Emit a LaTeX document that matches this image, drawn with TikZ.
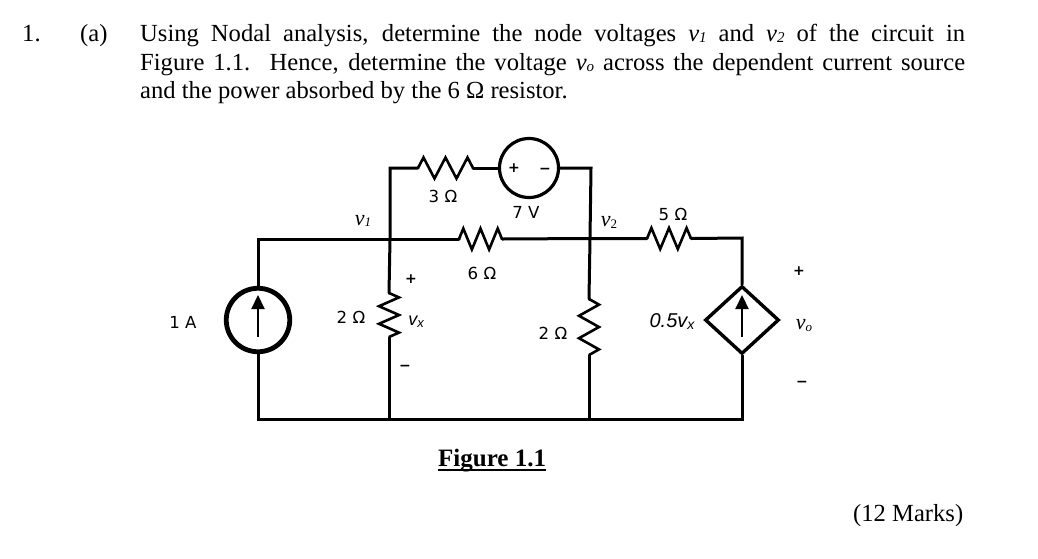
\documentclass[tikz,border=0pt]{standalone}
\usepackage{fontspec}
\setmainfont{Liberation Serif}
\newfontfamily\labfont{DejaVu Sans}
\newfontfamily\arialf{Liberation Sans}
\usetikzlibrary{calc,arrows.meta,shapes.geometric}
\tikzset{
  wire/.style={draw=black,line width=3pt,line cap=round,line join=miter},
  zigwire/.style={draw=black,line width=2.6pt,line join=miter},
  srcring/.style={circle,draw=black,line width=4.8pt,minimum size=63.5pt,inner sep=0pt},
  vsring/.style={circle,draw=black,line width=3.2pt,minimum size=59pt,inner sep=0pt},
  depdiam/.style={diamond,draw=black,line width=3.4pt,minimum width=74pt,minimum height=68pt,inner sep=0pt},
  flow/.style={draw=black,line width=2.2pt,-{Triangle[length=14pt,width=13pt]}},
  lab/.style={font=\labfont\fontsize{16.6}{18}\selectfont,inner sep=0pt},
  sign/.style={font=\labfont\bfseries\fontsize{14}{16}\selectfont,inner sep=0pt},
  sym/.style={font=\fontsize{22}{24}\selectfont\itshape,inner sep=0pt},
  body/.style={font=\fontsize{24.6}{28}\selectfont,anchor=base west,inner sep=0pt},
}
\newcommand{\zig}[4]{%
  \draw[zigwire] (#1) -- ($(#1)!.1!(#2)+(#3,#4)$) -- ($(#1)!.3!(#2)-(#3,#4)$) -- ($(#1)!.5!(#2)+(#3,#4)$) -- ($(#1)!.7!(#2)-(#3,#4)$) -- ($(#1)!.9!(#2)+(#3,#4)$) -- (#2);}
\begin{document}
\begin{tikzpicture}[x=1pt,y=-1pt]
\useasboundingbox[fill=white] (0,0) rectangle (1038,558);
% text
\node[body] (num) at (22,41) {1.};
\node[body] (part) at (80,41) {(a)};
\node[body] (la) at (140,41) {\makebox[825pt][s]{Using Nodal analysis, determine the node voltages \textit{v\raisebox{-1pt}{\fontsize{15}{15}\selectfont 1}} and \textit{v\raisebox{-1pt}{\fontsize{15}{15}\selectfont 2}} of the circuit in}};
\node[body] (lb) at (140,70) {\makebox[825pt][s]{Figure 1.1.\hspace{3pt} Hence, determine the voltage \textit{v\raisebox{-1pt}{\fontsize{15}{15}\selectfont o}} across the dependent current source}};
\node[body] (lc) at (140,98) {and the power absorbed by the 6 Ω resistor.};
\node[body] (figcap) at (438,466) {\bfseries\makebox[0pt][l]{\rule[-4.5pt]{108pt}{1.8pt}}\fontsize{25}{28}\selectfont Figure 1.1};
\node[body] (marks) at (853,521) {(12 Marks)};
% junctions
\coordinate (tl) at (259,239);
\coordinate (n1) at (390,239);
\coordinate (n2) at (590,238.5);
\coordinate (tr) at (742,238);
\coordinate (bl) at (258,419);
\coordinate (b1) at (389,419);
\coordinate (b2) at (589,419);
\coordinate (br) at (742,419);
\coordinate (t1) at (390,168);
\coordinate (t2) at (591,168);
% components
\node[srcring] (isrc) at (258,320) {};
\node[vsring] (vsrc) at (529,168) {};
\node[depdiam] (dep) at (742,320) {};
\coordinate (r3a) at (418,168); \coordinate (r3b) at (473,168);
\coordinate (r6a) at (459,239); \coordinate (r6b) at (502,239);
\coordinate (r5a) at (647,238.5); \coordinate (r5b) at (691,238.5);
\coordinate (rla) at (389,293); \coordinate (rlb) at (389,337);
\coordinate (rra) at (589,299); \coordinate (rrb) at (589,355);
\zig{r3a}{r3b}{0}{-10.5}
\zig{r6a}{r6b}{0}{-10.5}
\zig{r5a}{r5b}{0}{-10.5}
\zig{rla}{rlb}{10}{0}
\zig{rra}{rrb}{10}{0}
% wires
\draw[wire] (isrc.north) -- (isrc.north |- tl) -- (n1) -- (r6a);
\draw[wire] (r6b) -- (n2) -- (r5a);
\draw[wire] (r5b) -- (tr) -- (dep.north);
\draw[wire] (isrc.south) -- (bl) -- (br) -- (dep.south);
\draw[wire] (r3a) -- (t1) -- (n1) -- (rla);
\draw[wire] (r3b) -- (vsrc.west);
\draw[wire] (vsrc.east) -- (t2) -- (n2) -- (rra);
\draw[wire] (rlb) -- (b1);
\draw[wire] (rrb) -- (b2);
% arrows
\coordinate (ia) at (258,337); \coordinate (ib) at (258,295);
\coordinate (da) at (742,337); \coordinate (db) at (742,295);
\draw[flow] (ia) -- (ib);
\draw[flow] (da) -- (db);
% labels
\node[sign] (vsp) at (514,168) {+};
\node[sign] (vsm) at (545,171) {−};
\node[lab] (l3) at (443,196) {3 Ω};
\node[lab] (l7) at (526,212) {7 V};
\node[lab] (l6) at (482,273) {6 Ω};
\node[lab] (l5) at (673,214) {5 Ω};
\node[lab] (l2a) at (351,317) {2 Ω};
\node[lab] (l2b) at (553,333) {2 Ω};
\node[lab] (l1a) at (183,322) {1 A};
\node[sym] (v1) at (363,221) {v\raisebox{-1pt}{\fontsize{13}{13}\selectfont 1}};
\node[sym] (v2) at (609,222) {v\raisebox{-2pt}{\fontsize{13}{13}\selectfont\upshape 2}};
\node[sym] (vo) at (804,326) {v\raisebox{-2pt}{\fontsize{13}{13}\selectfont o}};
\node[sign] (xp) at (411,279) {+};
\node[sign] (xm) at (405,368) {−};
\node[sign] (op) at (799,271) {+};
\node[sign] (om) at (802,384) {−};
\node[inner sep=0pt,font=\arialf\itshape\fontsize{18}{20}\selectfont] (vx) at (416,322) {v\raisebox{-2pt}{\fontsize{13}{13}\selectfont x}};
\node[inner sep=0pt,font=\arialf\itshape\fontsize{20}{22}\selectfont] (gain) at (672,322) {0.5v\raisebox{-2pt}{\fontsize{14}{14}\selectfont x}};
\end{tikzpicture}
\end{document}
